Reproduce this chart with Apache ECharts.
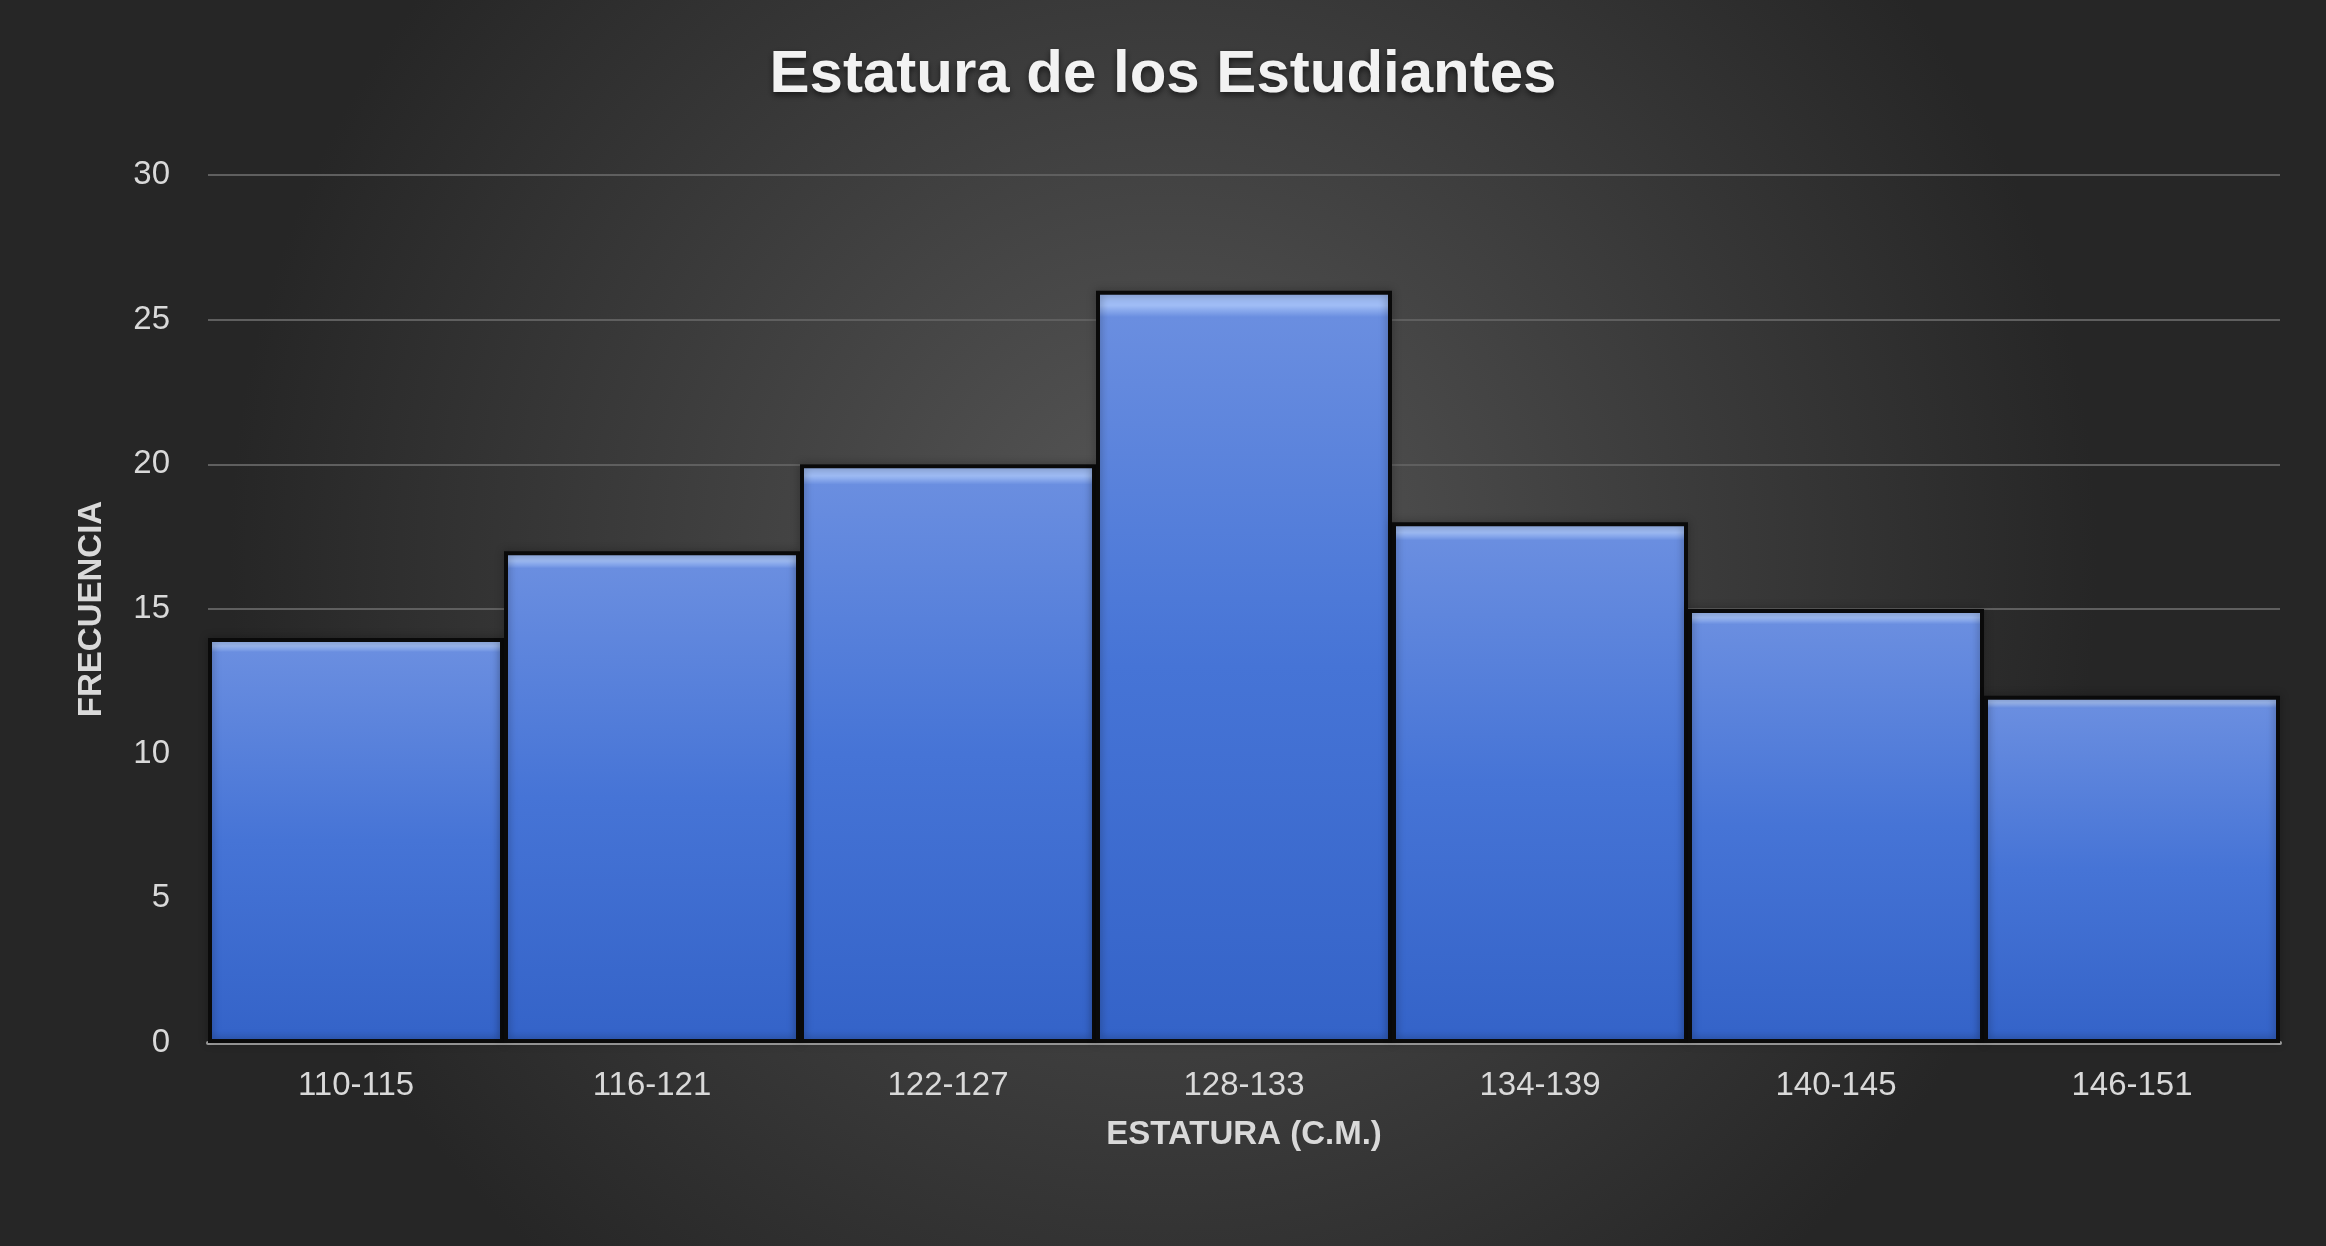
<!DOCTYPE html>
<html><head><meta charset="utf-8">
<script src="https://cdn.jsdelivr.net/npm/echarts@6/dist/echarts.min.js"></script>
<style>html,body{margin:0;padding:0;}#c{width:2326px;height:1246px;}</style>
</head><body><div id="c"></div>
<script>
const categories = ['110-115','116-121','122-127','128-133','134-139','140-145','146-151'];
const frequencies = [14,17,20,26,18,15,12];
const yTicks = [0,5,10,15,20,25,30];

const chart = echarts.init(document.getElementById('c'));
const font = 'Liberation Sans, Noto Sans, sans-serif';
chart.setOption({
  backgroundColor: {type:'radial', x:0.5, y:0.45, r:0.75,
    colorStops:[{offset:0,color:'#575757'},{offset:1,color:'#262626'}]},
  title: {text:'Estatura de los Estudiantes', left:'center', top:40,
    textStyle:{color:'#f2f2f2', fontSize:60, fontWeight:'bold', fontFamily:font,
      textShadowColor:'rgba(0,0,0,0.6)', textShadowBlur:6, textShadowOffsetY:3}},
  grid: {left:208, right:46, top:175, bottom:203},
  xAxis: {type:'category', data:categories,
    name:'ESTATURA (C.M.)', nameLocation:'middle', nameGap:75,
    nameTextStyle:{color:'#d9d9d9', fontSize:33, fontWeight:'bold', fontFamily:font},
    axisLine:{lineStyle:{color:'#a6a6a6', width:4}}, axisTick:{show:false},
    axisLabel:{color:'#d9d9d9', fontSize:33, margin:26, fontFamily:font}},
  yAxis: {type:'value', min:yTicks[0], max:yTicks[yTicks.length-1], interval:5,
    name:'FRECUENCIA', nameLocation:'middle', nameGap:100,
    nameTextStyle:{color:'#d9d9d9', fontSize:33, fontWeight:'bold', fontFamily:font},
    axisLine:{show:false}, axisTick:{show:false},
    axisLabel:{color:'#d9d9d9', fontSize:33, margin:38, fontFamily:font},
    splitLine:{lineStyle:{color:'#5f5f5f', width:2}}},
  series: [{type:'bar', data:frequencies, barCategoryGap:'0%',
    itemStyle:{
      color:{type:'linear',x:0,y:0,x2:0,y2:1,colorStops:[
        {offset:0,color:'#9fbcf5'},{offset:0.02,color:'#9fbcf5'},{offset:0.035,color:'#6a8ee0'},
        {offset:0.5,color:'#4674d6'},{offset:1,color:'#3463c8'}]},
      borderColor:'#0a0a0a', borderWidth:4,
      shadowColor:'rgba(0,0,0,0.4)', shadowBlur:8}
  }]
});
</script></body></html>
